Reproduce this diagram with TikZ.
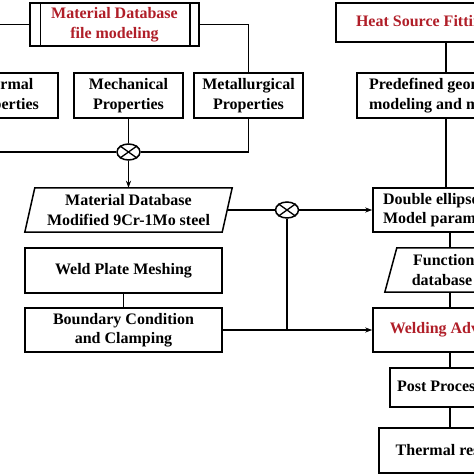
\documentclass[tikz,border=0pt]{standalone}
\usepackage{fontspec}
\setmainfont{Liberation Serif}
\usetikzlibrary{arrows.meta,shapes.geometric,calc}
\definecolor{hdred}{HTML}{B01E28}
\begin{document}
\begin{tikzpicture}[x=1pt,y=-1pt,
  txt/.style={inner sep=0pt, align=center, font=\fontsize{16}{19.5}\selectfont\bfseries},
  box/.style={txt, draw, line width=1.5pt, line join=miter},
  ghost/.style={txt},
  boxline/.style={line width=1.5pt, line join=miter},
  conn/.style={line width=1.2pt},
  arr/.style={conn, -{Stealth[length=7pt,width=5pt]}},
  crossnode/.style={draw, ellipse, line width=1.5pt, minimum width=23pt, minimum height=16pt, inner sep=0pt},
  redtxt/.style={text=hdred}
]
\useasboundingbox (0,0) rectangle (474,474);
\clip (0,0) rectangle (474,474);

% left column
\node[box, redtxt, minimum width=169pt, minimum height=43pt] (matdb) at (114.5,24.5) {Material Database\\file modeling};
\draw[boxline] ([xshift=11pt]matdb.north west) -- ([xshift=11pt]matdb.south west);
\draw[boxline] ([xshift=-10pt]matdb.north east) -- ([xshift=-10pt]matdb.south east);

\node[box, minimum width=109pt, minimum height=45pt] (thermal) at (3.5,95.5) {Thermal\\Properties};
\node[box, minimum width=109pt, minimum height=45pt] (mech) at (128.5,95.5) {Mechanical\\Properties};
\node[box, minimum width=109pt, minimum height=45pt] (metal) at (248.5,95.5) {Metallurgical\\Properties};

\node[crossnode] (c1) at (128.5,152) {};
\draw[line width=1.3pt] (c1.north west) -- (c1.south east) (c1.north east) -- (c1.south west);

\node[ghost, minimum width=197pt, minimum height=44pt] (m2) at (128.5,210) {Material Database\\Modified 9Cr-1Mo steel};
\draw[boxline] ([xshift=5pt]m2.north west) -- ([xshift=5pt]m2.north east) -- ([xshift=-5pt]m2.south east) -- ([xshift=-5pt]m2.south west) -- cycle;

\node[box, minimum width=197pt, minimum height=45pt] (wpm) at (123.5,270.5) {Weld Plate Meshing};
\node[box, minimum width=197pt, minimum height=44pt] (bc) at (123.5,330) {Boundary Condition\\and Clamping};

\node[crossnode] (c2) at (287,210) {};
\draw[line width=1.3pt] (c2.north west) -- (c2.south east) (c2.north east) -- (c2.south west);

% right column
\node[box, redtxt, minimum width=174pt, minimum height=39pt] (heat) at (423,22.5) {Heat Source Fitting};
\node[box, align=left, minimum width=178pt, minimum height=45pt] (pred) at (446,95.5) {Predefined geometry\\modeling and meshing};
\node[box, align=left, minimum width=146pt, minimum height=44pt] (dbl) at (446,210) {Double ellipsoidal\\Model parameters};
\node[ghost, minimum width=118pt, minimum height=44pt] (func) at (450,270) {Functional\\database ...};
\draw[boxline] ([xshift=6pt]func.north west) -- ([xshift=6pt]func.north east) -- ([xshift=-6pt]func.south east) -- ([xshift=-6pt]func.south west) -- cycle;
\node[box, redtxt, minimum width=154pt, minimum height=44pt] (weld) at (450,330) {Welding Advance};
\node[box, minimum width=120pt, minimum height=39pt] (post) at (450,387.5) {Post Processing};
\node[box, minimum width=142pt, minimum height=45pt] (thr) at (450,450.5) {Thermal results};

% connectors
\draw[conn] (matdb.west) -| ([xshift=-20pt]thermal.north);
\draw[conn] (matdb.east) -| (metal.north);
\draw[conn] ([xshift=-20pt]thermal.south) |- (c1.west);
\draw[conn] (metal.south) |- (c1.east);
\draw[conn] (mech.south) -- (c1.north);
\draw[arr] (c1.south) -- (m2.north);
\draw[conn] (m2.east) -- (c2.west);
\draw[arr] (c2.east) -- (dbl.west);
\draw[conn] (wpm.south) -- (bc.north);
\draw[arr] (bc.east) -- (weld.west);
\draw[conn] (c2.south) -- (c2.south |- bc.east);

\draw[conn] (heat.south -| pred.north) -- (pred.north);
\draw[conn] (pred.south) -- (dbl.north);
\draw[conn] (dbl.south -| func.north) -- (func.north);
\draw[conn] (func.south) -- (weld.north);
\draw[conn] (weld.south) -- (post.north);
\draw[conn] (post.south) -- (thr.north);
\end{tikzpicture}
\end{document}
